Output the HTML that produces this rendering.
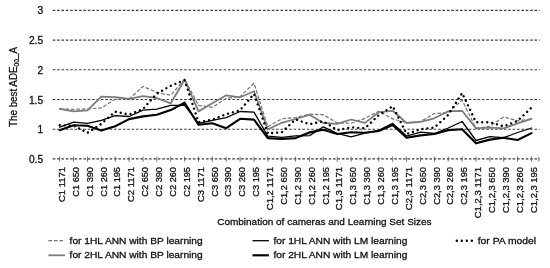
<!DOCTYPE html><html><head><meta charset="utf-8"><title>chart</title><style>html,body{margin:0;padding:0;background:#fff}svg{display:block}text{font-family:"Liberation Sans",sans-serif;fill:#111;stroke:#111;stroke-width:0.3px}</style></head><body>
<svg width="550" height="268" viewBox="0 0 550 268">
<rect width="550" height="268" fill="#fff"/>
<line x1="52.7" x2="539.6" y1="10.4" y2="10.4" stroke="#3c3c3c" stroke-width="1.1" stroke-dasharray="2.6 1.78"/>
<text x="43.1" y="14.4" font-size="10.2" text-anchor="end">3</text>
<line x1="52.7" x2="539.6" y1="40.1" y2="40.1" stroke="#3c3c3c" stroke-width="1.1" stroke-dasharray="2.6 1.78"/>
<text x="43.1" y="44.1" font-size="10.2" text-anchor="end">2.5</text>
<line x1="52.7" x2="539.6" y1="69.8" y2="69.8" stroke="#3c3c3c" stroke-width="1.1" stroke-dasharray="2.6 1.78"/>
<text x="43.1" y="73.8" font-size="10.2" text-anchor="end">2</text>
<line x1="52.7" x2="539.6" y1="99.5" y2="99.5" stroke="#3c3c3c" stroke-width="1.1" stroke-dasharray="2.6 1.78"/>
<text x="43.1" y="103.5" font-size="10.2" text-anchor="end">1.5</text>
<line x1="52.7" x2="539.6" y1="129.2" y2="129.2" stroke="#3c3c3c" stroke-width="1.1" stroke-dasharray="2.6 1.78"/>
<text x="43.1" y="133.2" font-size="10.2" text-anchor="end">1</text>
<line x1="52.7" x2="539.6" y1="158.9" y2="158.9" stroke="#3c3c3c" stroke-width="1.1" stroke-dasharray="2.6 1.78"/>
<text x="43.1" y="162.9" font-size="10.2" text-anchor="end">0.5</text>
<line x1="59.7" x2="59.7" y1="156.6" y2="161.7" stroke="#505050" stroke-width="0.8"/>
<line x1="73.6" x2="73.6" y1="156.6" y2="161.7" stroke="#505050" stroke-width="0.8"/>
<line x1="87.5" x2="87.5" y1="156.6" y2="161.7" stroke="#505050" stroke-width="0.8"/>
<line x1="101.3" x2="101.3" y1="156.6" y2="161.7" stroke="#505050" stroke-width="0.8"/>
<line x1="115.2" x2="115.2" y1="156.6" y2="161.7" stroke="#505050" stroke-width="0.8"/>
<line x1="129.1" x2="129.1" y1="156.6" y2="161.7" stroke="#505050" stroke-width="0.8"/>
<line x1="143.0" x2="143.0" y1="156.6" y2="161.7" stroke="#505050" stroke-width="0.8"/>
<line x1="156.8" x2="156.8" y1="156.6" y2="161.7" stroke="#505050" stroke-width="0.8"/>
<line x1="170.7" x2="170.7" y1="156.6" y2="161.7" stroke="#505050" stroke-width="0.8"/>
<line x1="184.6" x2="184.6" y1="156.6" y2="161.7" stroke="#505050" stroke-width="0.8"/>
<line x1="198.5" x2="198.5" y1="156.6" y2="161.7" stroke="#505050" stroke-width="0.8"/>
<line x1="212.3" x2="212.3" y1="156.6" y2="161.7" stroke="#505050" stroke-width="0.8"/>
<line x1="226.2" x2="226.2" y1="156.6" y2="161.7" stroke="#505050" stroke-width="0.8"/>
<line x1="240.1" x2="240.1" y1="156.6" y2="161.7" stroke="#505050" stroke-width="0.8"/>
<line x1="254.0" x2="254.0" y1="156.6" y2="161.7" stroke="#505050" stroke-width="0.8"/>
<line x1="267.8" x2="267.8" y1="156.6" y2="161.7" stroke="#505050" stroke-width="0.8"/>
<line x1="281.7" x2="281.7" y1="156.6" y2="161.7" stroke="#505050" stroke-width="0.8"/>
<line x1="295.6" x2="295.6" y1="156.6" y2="161.7" stroke="#505050" stroke-width="0.8"/>
<line x1="309.5" x2="309.5" y1="156.6" y2="161.7" stroke="#505050" stroke-width="0.8"/>
<line x1="323.3" x2="323.3" y1="156.6" y2="161.7" stroke="#505050" stroke-width="0.8"/>
<line x1="337.2" x2="337.2" y1="156.6" y2="161.7" stroke="#505050" stroke-width="0.8"/>
<line x1="351.1" x2="351.1" y1="156.6" y2="161.7" stroke="#505050" stroke-width="0.8"/>
<line x1="365.0" x2="365.0" y1="156.6" y2="161.7" stroke="#505050" stroke-width="0.8"/>
<line x1="378.8" x2="378.8" y1="156.6" y2="161.7" stroke="#505050" stroke-width="0.8"/>
<line x1="392.7" x2="392.7" y1="156.6" y2="161.7" stroke="#505050" stroke-width="0.8"/>
<line x1="406.6" x2="406.6" y1="156.6" y2="161.7" stroke="#505050" stroke-width="0.8"/>
<line x1="420.5" x2="420.5" y1="156.6" y2="161.7" stroke="#505050" stroke-width="0.8"/>
<line x1="434.4" x2="434.4" y1="156.6" y2="161.7" stroke="#505050" stroke-width="0.8"/>
<line x1="448.2" x2="448.2" y1="156.6" y2="161.7" stroke="#505050" stroke-width="0.8"/>
<line x1="462.1" x2="462.1" y1="156.6" y2="161.7" stroke="#505050" stroke-width="0.8"/>
<line x1="476.0" x2="476.0" y1="156.6" y2="161.7" stroke="#505050" stroke-width="0.8"/>
<line x1="489.9" x2="489.9" y1="156.6" y2="161.7" stroke="#505050" stroke-width="0.8"/>
<line x1="503.7" x2="503.7" y1="156.6" y2="161.7" stroke="#505050" stroke-width="0.8"/>
<line x1="517.6" x2="517.6" y1="156.6" y2="161.7" stroke="#505050" stroke-width="0.8"/>
<line x1="531.5" x2="531.5" y1="156.6" y2="161.7" stroke="#505050" stroke-width="0.8"/>
<line x1="538.8" x2="538.8" y1="156.6" y2="161.7" stroke="#505050" stroke-width="0.8"/>
<text transform="translate(64.9,202.1) rotate(-90)" font-size="9.7" textLength="35.1" lengthAdjust="spacingAndGlyphs">C1 1171</text>
<text transform="translate(78.8,196.7) rotate(-90)" font-size="9.7" textLength="29.7" lengthAdjust="spacingAndGlyphs">C1 650</text>
<text transform="translate(92.7,196.7) rotate(-90)" font-size="9.7" textLength="29.7" lengthAdjust="spacingAndGlyphs">C1 390</text>
<text transform="translate(106.5,196.7) rotate(-90)" font-size="9.7" textLength="29.7" lengthAdjust="spacingAndGlyphs">C1 260</text>
<text transform="translate(120.4,196.7) rotate(-90)" font-size="9.7" textLength="29.7" lengthAdjust="spacingAndGlyphs">C1 195</text>
<text transform="translate(134.3,202.1) rotate(-90)" font-size="9.7" textLength="35.1" lengthAdjust="spacingAndGlyphs">C2 1171</text>
<text transform="translate(148.2,196.7) rotate(-90)" font-size="9.7" textLength="29.7" lengthAdjust="spacingAndGlyphs">C2 650</text>
<text transform="translate(162.0,196.7) rotate(-90)" font-size="9.7" textLength="29.7" lengthAdjust="spacingAndGlyphs">C2 390</text>
<text transform="translate(175.9,196.7) rotate(-90)" font-size="9.7" textLength="29.7" lengthAdjust="spacingAndGlyphs">C2 260</text>
<text transform="translate(189.8,196.7) rotate(-90)" font-size="9.7" textLength="29.7" lengthAdjust="spacingAndGlyphs">C2 195</text>
<text transform="translate(203.7,202.1) rotate(-90)" font-size="9.7" textLength="35.1" lengthAdjust="spacingAndGlyphs">C3 1171</text>
<text transform="translate(217.5,196.7) rotate(-90)" font-size="9.7" textLength="29.7" lengthAdjust="spacingAndGlyphs">C3 650</text>
<text transform="translate(231.4,196.7) rotate(-90)" font-size="9.7" textLength="29.7" lengthAdjust="spacingAndGlyphs">C3 390</text>
<text transform="translate(245.3,196.7) rotate(-90)" font-size="9.7" textLength="29.7" lengthAdjust="spacingAndGlyphs">C3 260</text>
<text transform="translate(259.2,196.7) rotate(-90)" font-size="9.7" textLength="29.7" lengthAdjust="spacingAndGlyphs">C3 195</text>
<text transform="translate(273.0,210.2) rotate(-90)" font-size="9.7" textLength="43.2" lengthAdjust="spacingAndGlyphs">C1,2 1171</text>
<text transform="translate(286.9,204.8) rotate(-90)" font-size="9.7" textLength="37.8" lengthAdjust="spacingAndGlyphs">C1,2 650</text>
<text transform="translate(300.8,204.8) rotate(-90)" font-size="9.7" textLength="37.8" lengthAdjust="spacingAndGlyphs">C1,2 390</text>
<text transform="translate(314.7,204.8) rotate(-90)" font-size="9.7" textLength="37.8" lengthAdjust="spacingAndGlyphs">C1,2 260</text>
<text transform="translate(328.5,204.8) rotate(-90)" font-size="9.7" textLength="37.8" lengthAdjust="spacingAndGlyphs">C1,2 195</text>
<text transform="translate(342.4,210.2) rotate(-90)" font-size="9.7" textLength="43.2" lengthAdjust="spacingAndGlyphs">C1,3 1171</text>
<text transform="translate(356.3,204.8) rotate(-90)" font-size="9.7" textLength="37.8" lengthAdjust="spacingAndGlyphs">C1,3 650</text>
<text transform="translate(370.2,204.8) rotate(-90)" font-size="9.7" textLength="37.8" lengthAdjust="spacingAndGlyphs">C1,3 390</text>
<text transform="translate(384.0,204.8) rotate(-90)" font-size="9.7" textLength="37.8" lengthAdjust="spacingAndGlyphs">C1,3 260</text>
<text transform="translate(397.9,204.8) rotate(-90)" font-size="9.7" textLength="37.8" lengthAdjust="spacingAndGlyphs">C1,3 195</text>
<text transform="translate(411.8,210.2) rotate(-90)" font-size="9.7" textLength="43.2" lengthAdjust="spacingAndGlyphs">C2,3 1171</text>
<text transform="translate(425.7,204.8) rotate(-90)" font-size="9.7" textLength="37.8" lengthAdjust="spacingAndGlyphs">C2,3 650</text>
<text transform="translate(439.6,204.8) rotate(-90)" font-size="9.7" textLength="37.8" lengthAdjust="spacingAndGlyphs">C2,3 390</text>
<text transform="translate(453.4,204.8) rotate(-90)" font-size="9.7" textLength="37.8" lengthAdjust="spacingAndGlyphs">C2,3 260</text>
<text transform="translate(467.3,204.8) rotate(-90)" font-size="9.7" textLength="37.8" lengthAdjust="spacingAndGlyphs">C2,3 195</text>
<text transform="translate(481.2,218.3) rotate(-90)" font-size="9.7" textLength="51.3" lengthAdjust="spacingAndGlyphs">C1,2,3 1171</text>
<text transform="translate(495.1,212.9) rotate(-90)" font-size="9.7" textLength="45.9" lengthAdjust="spacingAndGlyphs">C1,2,3 650</text>
<text transform="translate(508.9,212.9) rotate(-90)" font-size="9.7" textLength="45.9" lengthAdjust="spacingAndGlyphs">C1,2,3 390</text>
<text transform="translate(522.8,212.9) rotate(-90)" font-size="9.7" textLength="45.9" lengthAdjust="spacingAndGlyphs">C1,2,3 260</text>
<text transform="translate(536.7,212.9) rotate(-90)" font-size="9.7" textLength="45.9" lengthAdjust="spacingAndGlyphs">C1,2,3 195</text>
<polyline points="59.7,108.9 73.6,109.3 87.5,108.9 101.3,107.9 115.2,99.2 129.1,98.8 143.0,86.5 156.8,92.4 170.7,95.3 184.6,79.1 198.5,105.4 212.3,107.4 226.2,98.3 240.1,96.6 254.0,83.2 267.8,126.8 281.7,118.8 295.6,117.6 309.5,114.2 323.3,114.8 337.2,122.8 351.1,123.3 365.0,118.3 378.8,111.2 392.7,118.9 406.6,122.7 420.5,121.5 434.4,113.5 448.2,112.6 462.1,100.1 476.0,128.3 489.9,126.3 503.7,116.9 517.6,120.9 531.5,118.9" fill="none" stroke="#757575" stroke-width="1.2" stroke-dasharray="3.7 1.8" stroke-linejoin="round"/>
<polyline points="59.7,108.9 73.6,111.4 87.5,110.3 101.3,96.6 115.2,97.2 129.1,98.9 143.0,96.2 156.8,98.0 170.7,103.3 184.6,79.7 198.5,111.4 212.3,103.3 226.2,95.3 240.1,97.3 254.0,91.2 267.8,129.5 281.7,122.8 295.6,119.0 309.5,114.8 323.3,123.0 337.2,123.9 351.1,119.5 365.0,122.9 378.8,112.2 392.7,110.8 406.6,123.0 420.5,121.9 434.4,118.3 448.2,111.2 462.1,110.8 476.0,128.3 489.9,127.7 503.7,128.3 517.6,123.3 531.5,118.9" fill="none" stroke="#7c7c7c" stroke-width="1.8" stroke-linejoin="round" stroke-linecap="round"/>
<polyline points="59.7,125.2 73.6,125.6 87.5,132.8 101.3,123.9 115.2,111.7 129.1,114.5 143.0,109.0 156.8,93.6 170.7,85.8 184.6,80.1 198.5,122.2 212.3,119.7 226.2,114.2 240.1,110.2 254.0,93.9 267.8,133.4 281.7,132.3 295.6,119.4 309.5,124.2 323.3,121.2 337.2,130.1 351.1,127.4 365.0,128.3 378.8,115.2 392.7,106.2 406.6,134.0 420.5,129.2 434.4,127.6 448.2,114.9 462.1,93.1 476.0,122.3 489.9,122.3 503.7,126.3 517.6,120.9 531.5,107.6" fill="none" stroke="#000" stroke-width="2.4" stroke-dasharray="0.01 5" stroke-linecap="round" stroke-linejoin="round"/>
<polyline points="59.7,127.2 73.6,122.2 87.5,123.3 101.3,120.3 115.2,115.7 129.1,116.5 143.0,110.2 156.8,109.1 170.7,105.4 184.6,105.4 198.5,123.3 212.3,120.3 226.2,117.6 240.1,111.5 254.0,112.1 267.8,136.2 281.7,137.4 295.6,135.9 309.5,135.6 323.3,126.8 337.2,133.4 351.1,136.8 365.0,133.1 378.8,130.4 392.7,123.4 406.6,136.1 420.5,132.2 434.4,133.5 448.2,128.0 462.1,121.5 476.0,140.5 489.9,136.6 503.7,137.7 517.6,132.5 531.5,128.0" fill="none" stroke="#000" stroke-width="1.3" stroke-linejoin="round" stroke-linecap="round"/>
<polyline points="59.7,130.2 73.6,125.2 87.5,125.8 101.3,130.6 115.2,126.2 129.1,119.1 143.0,116.4 156.8,114.8 170.7,110.1 184.6,102.7 198.5,124.8 212.3,123.3 226.2,128.2 240.1,118.8 254.0,119.6 267.8,138.1 281.7,139.0 295.6,138.1 309.5,132.4 323.3,129.8 337.2,134.0 351.1,132.3 365.0,132.8 378.8,131.0 392.7,125.0 406.6,137.8 420.5,135.4 434.4,134.0 448.2,130.1 462.1,129.2 476.0,143.3 489.9,139.6 503.7,137.8 517.6,140.0 531.5,133.1" fill="none" stroke="#000" stroke-width="2.15" stroke-linejoin="round" stroke-linecap="round"/>
<text transform="translate(16.5,127) rotate(-90)" font-size="10.3" textLength="80" lengthAdjust="spacingAndGlyphs">The best ADE<tspan font-size="7" dy="2">00</tspan><tspan dy="-2">_A</tspan></text>
<text x="217.2" y="224.8" font-size="9.9" textLength="214.4" lengthAdjust="spacingAndGlyphs">Combination of cameras and Learning Set Sizes</text>
<line x1="48.4" x2="63.8" y1="240.7" y2="240.7" stroke="#757575" stroke-width="1.2" stroke-dasharray="3.7 1.8"/>
<text x="69.6" y="243.6" font-size="9.9" textLength="133.1" lengthAdjust="spacingAndGlyphs">for 1HL ANN with BP learning</text>
<line x1="48.4" x2="65.0" y1="255.3" y2="255.3" stroke="#7c7c7c" stroke-width="1.8"/>
<text x="69.6" y="258.2" font-size="9.9" textLength="133.1" lengthAdjust="spacingAndGlyphs">for 2HL ANN with BP learning</text>
<line x1="252.5" x2="268.9" y1="240.7" y2="240.7" stroke="#000" stroke-width="1.3"/>
<text x="273.4" y="243.6" font-size="9.9" textLength="134" lengthAdjust="spacingAndGlyphs">for 1HL ANN with LM learning</text>
<line x1="252.5" x2="268.9" y1="255.3" y2="255.3" stroke="#000" stroke-width="2.15"/>
<text x="273.4" y="258.2" font-size="9.9" textLength="134" lengthAdjust="spacingAndGlyphs">for 2HL ANN with LM learning</text>
<line x1="456.8" x2="472.5" y1="240.7" y2="240.7" stroke="#000" stroke-width="2.4" stroke-dasharray="0.01 5" stroke-linecap="round"/>
<text x="477.7" y="243.6" font-size="9.9" textLength="58.5" lengthAdjust="spacingAndGlyphs">for PA model</text>
</svg></body></html>
